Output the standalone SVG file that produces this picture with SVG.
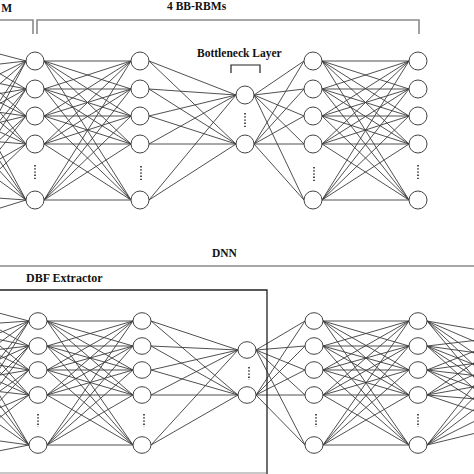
<svg xmlns="http://www.w3.org/2000/svg" width="474" height="474" viewBox="0 0 474 474">
<style>
.bg{fill:#fff}
.c{fill:none;stroke:#3c3c3c;stroke-width:0.9}
.n{fill:#fff;stroke:#444;stroke-width:1}
.br{fill:none;stroke:#8a8a8a;stroke-width:1.6}
.bx{fill:none;stroke:#222;stroke-width:1.3}
.d{fill:none;stroke:#333;stroke-width:1.7;stroke-dasharray:1.4 1.8}
.t{font-family:"Liberation Serif","Times New Roman",serif;font-weight:bold;fill:#111}
</style>
<rect class="bg" x="0" y="0" width="474" height="474"/>
<g id="connectors">
<path class="c" d="M-61 38L26 61M-61 38L26 89M-61 38L26 116M-61 38L26 144M-61 38L26 200M-61 71L26 61M-61 71L26 89M-61 71L26 116M-61 71L26 144M-61 71L26 200M-61 104L26 61M-61 104L26 89M-61 104L26 116M-61 104L26 144M-61 104L26 200M-61 137L26 61M-61 137L26 89M-61 137L26 116M-61 137L26 144M-61 137L26 200M-61 194L26 61M-61 194L26 89M-61 194L26 116M-61 194L26 144M-61 194L26 200M-61 227L26 61M-61 227L26 89M-61 227L26 116M-61 227L26 144M-61 227L26 200"/>
<path class="c" d="M44 61L131 61M44 61L131 89M44 61L131 116M44 61L131 144M44 61L131 200M44 89L131 61M44 89L131 89M44 89L131 116M44 89L131 144M44 89L131 200M44 116L131 61M44 116L131 89M44 116L131 116M44 116L131 144M44 116L131 200M44 144L131 61M44 144L131 89M44 144L131 116M44 144L131 144M44 144L131 200M44 200L131 61M44 200L131 89M44 200L131 116M44 200L131 144M44 200L131 200"/>
<path class="c" d="M149 61L236 95M149 61L236 144M149 89L236 95M149 89L236 144M149 116L236 95M149 116L236 144M149 144L236 95M149 144L236 144M149 200L236 95M149 200L236 144"/>
<path class="c" d="M254 95L304 61M254 95L304 89M254 95L304 116M254 95L304 144M254 95L304 200M254 144L304 61M254 144L304 89M254 144L304 116M254 144L304 144M254 144L304 200"/>
<path class="c" d="M322 61L409 61M322 61L409 89M322 61L409 116M322 61L409 144M322 61L409 200M322 89L409 61M322 89L409 89M322 89L409 116M322 89L409 144M322 89L409 200M322 116L409 61M322 116L409 89M322 116L409 116M322 116L409 144M322 116L409 200M322 144L409 61M322 144L409 89M322 144L409 116M322 144L409 144M322 144L409 200M322 200L409 61M322 200L409 89M322 200L409 116M322 200L409 144M322 200L409 200"/>
<path class="c" d="M-58 298L29 321M-58 298L29 346M-58 298L29 370M-58 298L29 395M-58 298L29 445M-58 327L29 321M-58 327L29 346M-58 327L29 370M-58 327L29 395M-58 327L29 445M-58 356L29 321M-58 356L29 346M-58 356L29 370M-58 356L29 395M-58 356L29 445M-58 385L29 321M-58 385L29 346M-58 385L29 370M-58 385L29 395M-58 385L29 445M-58 433L29 321M-58 433L29 346M-58 433L29 370M-58 433L29 395M-58 433L29 445M-58 462L29 321M-58 462L29 346M-58 462L29 370M-58 462L29 395M-58 462L29 445"/>
<path class="c" d="M47 321L133 321M47 321L133 346M47 321L133 370M47 321L133 395M47 321L133 445M47 346L133 321M47 346L133 346M47 346L133 370M47 346L133 395M47 346L133 445M47 370L133 321M47 370L133 346M47 370L133 370M47 370L133 395M47 370L133 445M47 395L133 321M47 395L133 346M47 395L133 370M47 395L133 395M47 395L133 445M47 445L133 321M47 445L133 346M47 445L133 370M47 445L133 395M47 445L133 445"/>
<path class="c" d="M151 321L238 350M151 321L238 395M151 346L238 350M151 346L238 395M151 370L238 350M151 370L238 395M151 395L238 350M151 395L238 395M151 445L238 350M151 445L238 395"/>
<path class="c" d="M256 350L305 321M256 350L305 346M256 350L305 370M256 350L305 395M256 350L305 445M256 395L305 321M256 395L305 346M256 395L305 370M256 395L305 395M256 395L305 445"/>
<path class="c" d="M323 321L409 321M323 321L409 346M323 321L409 370M323 321L409 395M323 321L409 445M323 346L409 321M323 346L409 346M323 346L409 370M323 346L409 395M323 346L409 445M323 370L409 321M323 370L409 346M323 370L409 370M323 370L409 395M323 370L409 445M323 395L409 321M323 395L409 346M323 395L409 370M323 395L409 395M323 395L409 445M323 445L409 321M323 445L409 346M323 445L409 370M323 445L409 395M323 445L409 445"/>
<path class="c" d="M427 321L513 336M427 321L513 358M427 321L513 380M427 321L513 402M427 321L513 424M427 346L513 336M427 346L513 358M427 346L513 380M427 346L513 402M427 346L513 424M427 370L513 336M427 370L513 358M427 370L513 380M427 370L513 402M427 370L513 424M427 395L513 336M427 395L513 358M427 395L513 380M427 395L513 402M427 395L513 424M427 445L513 336M427 445L513 358M427 445L513 380M427 445L513 402M427 445L513 424"/>
</g>
<g id="brackets">
<path class="br" d="M-2 20H33V34M37 34V20H419V34"/>
<path d="M231 73V65H260V73" fill="none" stroke="#222" stroke-width="1.2"/>
<path class="br" d="M0 266H474"/>
</g>
<g id="dbf-box">
<path class="bx" d="M-2 290H267V474"/>
<path d="M0 473H266" fill="none" stroke="#c8c8c8" stroke-width="2"/>
</g>
<g id="labels">
<text class="t" x="12" y="11.5" font-size="11.5" text-anchor="end">M</text>
<text class="t" x="167" y="10" font-size="11.5">4 BB-RBMs</text>
<text class="t" x="197" y="57" font-size="11.5">Bottleneck Layer</text>
<text class="t" x="212" y="257" font-size="11.5">DNN</text>
<text class="t" x="26" y="282" font-size="12">DBF Extractor</text>
</g>
<g id="top-col1">
<circle class="n" cx="35" cy="61" r="9"/><circle class="n" cx="35" cy="89" r="9"/><circle class="n" cx="35" cy="116" r="9"/><circle class="n" cx="35" cy="144" r="9"/><circle class="n" cx="35" cy="200" r="9"/>
<path class="d" d="M35 165V179"/>
</g>
<g id="top-col2">
<circle class="n" cx="140" cy="61" r="9"/><circle class="n" cx="140" cy="89" r="9"/><circle class="n" cx="140" cy="116" r="9"/><circle class="n" cx="140" cy="144" r="9"/><circle class="n" cx="140" cy="200" r="9"/>
<path class="d" d="M141 166V180"/>
</g>
<g id="top-bottleneck">
<circle class="n" cx="245" cy="95" r="9"/><circle class="n" cx="245" cy="144" r="9"/>
<path class="d" d="M245 113V127"/>
</g>
<g id="top-col4">
<circle class="n" cx="313" cy="61" r="9"/><circle class="n" cx="313" cy="89" r="9"/><circle class="n" cx="313" cy="116" r="9"/><circle class="n" cx="313" cy="144" r="9"/><circle class="n" cx="313" cy="200" r="9"/>
<path class="d" d="M314 167V181"/>
</g>
<g id="top-col5">
<circle class="n" cx="418" cy="61" r="9"/><circle class="n" cx="418" cy="89" r="9"/><circle class="n" cx="418" cy="116" r="9"/><circle class="n" cx="418" cy="144" r="9"/><circle class="n" cx="418" cy="200" r="9"/>
<path class="d" d="M418 165V179"/>
</g>
<g id="bot-col1">
<ellipse class="n" cx="38" cy="321" rx="9" ry="8.3"/><ellipse class="n" cx="38" cy="346" rx="9" ry="8.3"/><ellipse class="n" cx="38" cy="370" rx="9" ry="8.3"/><ellipse class="n" cx="38" cy="395" rx="9" ry="8.3"/><ellipse class="n" cx="38" cy="445" rx="9" ry="8.3"/>
<path class="d" d="M38 414V427"/>
</g>
<g id="bot-col2">
<ellipse class="n" cx="142" cy="321" rx="9" ry="8.3"/><ellipse class="n" cx="142" cy="346" rx="9" ry="8.3"/><ellipse class="n" cx="142" cy="370" rx="9" ry="8.3"/><ellipse class="n" cx="142" cy="395" rx="9" ry="8.3"/><ellipse class="n" cx="142" cy="445" rx="9" ry="8.3"/>
<path class="d" d="M144 414V427"/>
</g>
<g id="bot-bottleneck">
<ellipse class="n" cx="247" cy="350" rx="9" ry="8.3"/><ellipse class="n" cx="247" cy="395" rx="9" ry="8.3"/>
<path class="d" d="M249 367V380"/>
</g>
<g id="bot-col4">
<ellipse class="n" cx="314" cy="321" rx="9" ry="8.3"/><ellipse class="n" cx="314" cy="346" rx="9" ry="8.3"/><ellipse class="n" cx="314" cy="370" rx="9" ry="8.3"/><ellipse class="n" cx="314" cy="395" rx="9" ry="8.3"/><ellipse class="n" cx="314" cy="445" rx="9" ry="8.3"/>
<path class="d" d="M316 414V427"/>
</g>
<g id="bot-col5">
<ellipse class="n" cx="418" cy="321" rx="9" ry="8.3"/><ellipse class="n" cx="418" cy="346" rx="9" ry="8.3"/><ellipse class="n" cx="418" cy="370" rx="9" ry="8.3"/><ellipse class="n" cx="418" cy="395" rx="9" ry="8.3"/><ellipse class="n" cx="418" cy="445" rx="9" ry="8.3"/>
<path class="d" d="M418 414V427"/>
</g>
</svg>
